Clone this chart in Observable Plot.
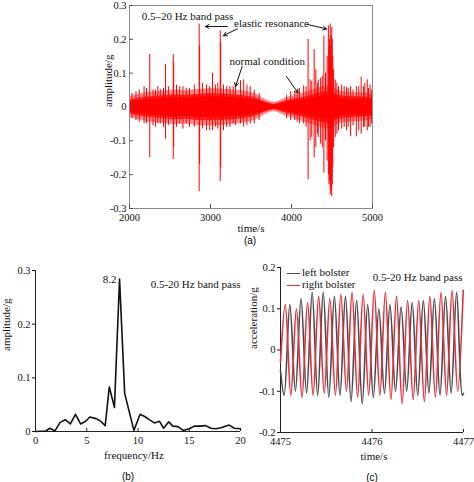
<!DOCTYPE html>
<html><head><meta charset="utf-8">
<script src="https://cdn.jsdelivr.net/npm/d3@7"></script>
<script src="https://cdn.jsdelivr.net/npm/@observablehq/plot@0.6"></script>
<style>
html,body{margin:0;padding:0;background:#fff;}
#wrap{position:relative;width:474px;height:482px;overflow:hidden;font-family:"Liberation Serif","Times New Roman",serif;}
#wrap svg text{font-family:"Liberation Serif","Times New Roman",serif !important;font-variant-numeric:normal !important;}
.pane{position:absolute;}
.cap{position:absolute;font-family:"Liberation Sans",Arial,sans-serif;font-size:10px;line-height:12px;transform:translateX(-50%);}
.leg{position:absolute;font-size:11px;line-height:12px;white-space:nowrap;color:#111;}
.leg i{display:inline-block;width:13px;height:0;border-top:1.6px solid;vertical-align:middle;margin-right:2px;}
</style></head><body><div id="wrap"></div>
<script>
// ---------- panel (a): band-passed time history ----------
const envTime = [2000,2050,2150,2250,2400,2550,2700,2850,3000,3200,3400,3550,3650,3720,3780,3830,3900,4000,4100,4200,4300,4420,4500,4560,4650,4750,4850,4950,5000];
const envSolidHi = [0.015,0.018,0.020,0.023,0.025,0.027,0.026,0.029,0.030,0.029,0.026,0.021,0.014,0.009,0.006,0.008,0.012,0.017,0.020,0.024,0.029,0.034,0.034,0.027,0.024,0.023,0.023,0.021,0.020];
const envSolidLo = [-0.015,-0.018,-0.021,-0.023,-0.026,-0.029,-0.027,-0.030,-0.031,-0.029,-0.026,-0.021,-0.014,-0.009,-0.006,-0.008,-0.012,-0.017,-0.020,-0.026,-0.030,-0.036,-0.036,-0.029,-0.025,-0.023,-0.023,-0.021,-0.020];
const envCoreHi = [0.020,0.024,0.027,0.030,0.033,0.036,0.035,0.038,0.040,0.038,0.034,0.028,0.018,0.012,0.008,0.010,0.016,0.022,0.026,0.032,0.038,0.045,0.045,0.036,0.032,0.030,0.030,0.028,0.026];
const envCoreLo = [-0.020,-0.024,-0.028,-0.031,-0.034,-0.038,-0.036,-0.040,-0.041,-0.039,-0.035,-0.028,-0.018,-0.012,-0.008,-0.010,-0.016,-0.022,-0.027,-0.034,-0.040,-0.048,-0.048,-0.038,-0.033,-0.031,-0.030,-0.028,-0.026];
const envHairHi = [0.030,0.034,0.040,0.044,0.046,0.050,0.048,0.052,0.055,0.052,0.048,0.040,0.026,0.018,0.013,0.016,0.024,0.032,0.038,0.046,0.054,0.062,0.060,0.050,0.045,0.042,0.042,0.040,0.036];
const envHairLo = [-0.030,-0.034,-0.040,-0.045,-0.048,-0.052,-0.050,-0.055,-0.056,-0.053,-0.048,-0.040,-0.026,-0.018,-0.013,-0.016,-0.024,-0.032,-0.040,-0.048,-0.056,-0.066,-0.064,-0.052,-0.046,-0.044,-0.043,-0.040,-0.036];
const spikeTime = [2030,2080,2120,2180,2210,2250,2290,2320,2350,2380,2420,2445,2480,2540,2546,2580,2620,2660,2700,2740,2800,2860,2866,2900,2950,2990,3025,3060,3090,3120,3126,3160,3200,3240,3280,3310,3370,3410,3450,3490,3540,3600,3940,3990,4040,4070,4100,4150,4180,4205,4230,4250,4280,4300,4320,4330,4360,4380,4400,4420,4440,4455,4462,4470,4478,4484,4490,4497,4503,4510,4520,4540,4560,4580,4620,4650,4680,4700,4730,4760,4800,4830,4860,4890,4905,4935,4950,4970,4990];
const spikeHi = [0.040,0.045,0.050,0.060,0.055,0.155,0.050,0.050,0.060,0.052,0.055,0.125,0.060,0.155,0.130,0.065,0.060,0.060,0.055,0.055,0.065,0.245,0.180,0.070,0.065,0.060,0.100,0.065,0.070,0.225,0.190,0.065,0.060,0.060,0.060,0.065,0.078,0.080,0.065,0.060,0.050,0.040,0.035,0.045,0.045,0.050,0.055,0.062,0.060,0.200,0.080,0.075,0.170,0.110,0.070,0.080,0.085,0.090,0.210,0.100,0.150,0.240,0.170,0.200,0.245,0.180,0.210,0.235,0.200,0.150,0.110,0.080,0.070,0.060,0.065,0.060,0.058,0.055,0.060,0.050,0.060,0.060,0.088,0.060,0.070,0.080,0.055,0.065,0.050];
const spikeLo = [-0.035,-0.040,-0.045,-0.050,-0.050,-0.150,-0.055,-0.060,-0.050,-0.050,-0.060,-0.095,-0.055,-0.155,-0.120,-0.060,-0.050,-0.065,-0.050,-0.060,-0.060,-0.250,-0.170,-0.065,-0.070,-0.070,-0.070,-0.060,-0.065,-0.220,-0.180,-0.070,-0.060,-0.060,-0.050,-0.055,-0.050,-0.060,-0.055,-0.050,-0.050,-0.040,-0.035,-0.040,-0.040,-0.045,-0.050,-0.050,-0.060,-0.215,-0.100,-0.090,-0.150,-0.120,-0.080,-0.090,-0.110,-0.120,-0.195,-0.100,-0.160,-0.200,-0.230,-0.220,-0.260,-0.240,-0.250,-0.265,-0.230,-0.180,-0.120,-0.090,-0.080,-0.070,-0.065,-0.060,-0.070,-0.060,-0.088,-0.055,-0.088,-0.070,-0.080,-0.060,-0.060,-0.070,-0.060,-0.060,-0.050];
const timeTicksA = [2000,3000,4000,5000];
const ampTicksA = [-0.3,-0.2,-0.1,0,0.1,0.2,0.3];
const noteText = ["0.5\u201320 Hz band pass","elastic resonance","normal condition"];
const noteTime = [2716,3753,3700];
const noteAmp = [0.267,0.247,0.135];
const arrowT1 = [3210,3333,4194,3391,3938];
const arrowA1 = [0.238,0.231,0.244,0.120,0.090];
const arrowT2 = [2938,3160,4432,3309,4082];
const arrowA2 = [0.238,0.211,0.231,0.061,0.041];

// ---------- panel (b): spectrum ----------
const freqHz = [0,1.0,1.4,1.9,2.4,2.9,3.4,3.9,4.4,4.9,5.3,5.9,6.3,6.8,7.2,7.7,8.2,8.7,9.6,10.2,10.65,11.1,11.6,12.1,12.5,13.0,13.4,13.9,14.4,15.0,15.5,16.0,16.6,17.1,17.6,18.1,18.9,19.4,20];
const freqAmp = [0,0.001,0.006,0.001,0.017,0.022,0.014,0.032,0.014,0.019,0.027,0.024,0.020,0.011,0.083,0.045,0.284,0.071,0.002,0.032,0.028,0.022,0.016,0.019,0.006,0.018,0.010,0.009,0.002,0.005,0.010,0.010,0.011,0.006,0.005,0.007,0.012,0.006,0.005];
const freqTicks = [0,5,10,15,20];
const ampTicksB = [0,0.1,0.2,0.3];

// ---------- panel (c): left / right bolster ----------
const leftT = [4475.000,4475.040,4475.102,4475.163,4475.224,4475.285,4475.346,4475.406,4475.467,4475.528,4475.589,4475.650,4475.710,4475.771,4475.832,4475.893,4475.953,4476.014,4476.075,4476.136,4476.196,4476.257,4476.318,4476.379,4476.439,4476.500,4476.561,4476.622,4476.682,4476.743,4476.804,4476.865,4476.925,4476.986,4477.000];
const leftV = [-0.050,-0.110,0.110,-0.100,0.125,-0.105,0.140,-0.110,0.140,-0.115,0.130,-0.110,0.130,-0.125,0.120,-0.130,0.110,-0.115,0.100,-0.105,0.110,-0.100,0.105,-0.100,0.115,-0.110,0.120,-0.105,0.125,-0.110,0.130,-0.105,0.140,-0.110,-0.105];
const rightT = [4475.000,4475.052,4475.113,4475.174,4475.235,4475.296,4475.356,4475.417,4475.478,4475.539,4475.600,4475.660,4475.721,4475.782,4475.843,4475.903,4475.964,4476.025,4476.086,4476.146,4476.207,4476.268,4476.329,4476.389,4476.450,4476.511,4476.572,4476.632,4476.693,4476.754,4476.815,4476.875,4476.936,4476.997];
const rightV = [-0.030,0.110,-0.110,0.100,-0.115,0.115,-0.110,0.130,-0.105,0.125,-0.110,0.135,-0.100,0.140,-0.115,0.135,-0.110,0.145,-0.110,0.140,-0.120,0.130,-0.130,0.120,-0.120,0.120,-0.125,0.130,-0.115,0.140,-0.110,0.145,-0.100,0.145];
const timeTicksC = [4475,4476,4477];
const accTicksC = [-0.2,-0.1,0,0.1,0.2];
const seriesNames = ["left bolster","right bolster"];

// ---------- build ----------
const SERIF = "'Liberation Serif','Times New Roman',serif";
const RED = "#ff0000";
const INK = "#111";
const fmt = d => d === 0 ? "0" : d.toFixed(1);
const envRows = envTime.map((t,i) => ({t, sHi: envSolidHi[i], sLo: envSolidLo[i], coreHi: envCoreHi[i], coreLo: envCoreLo[i], hairHi: envHairHi[i], hairLo: envHairLo[i]}));
const spikes = spikeTime.map((t,i) => ({t, hi: spikeHi[i], lo: spikeLo[i]}));
const notes = noteText.map((s,i) => ({s, t: noteTime[i], a: noteAmp[i]}));
const arrows = arrowT1.map((t,i) => ({t1: t, a1: arrowA1[i], t2: arrowT2[i], a2: arrowA2[i]}));
const spec = freqHz.map((f,i) => ({f, a: freqAmp[i]}));
const peak = spec.reduce((m,d) => d.a > m.a ? d : m, spec[0]);
const left = leftT.map((t,i) => ({t, v: leftV[i]}));
const right = rightT.map((t,i) => ({t, v: rightV[i]}));

const wrap = document.getElementById("wrap");
function place(el, x, y) { el.classList.add("pane"); el.style.left = x + "px"; el.style.top = y + "px"; wrap.appendChild(el); }
const baseStyle = {fontFamily: SERIF, fontSize: "11px", background: "transparent", color: INK, overflow: "visible"};
const T = {fontFamily: SERIF, fontSize: 11, fill: INK};
const TK = {fontFamily: SERIF, fontSize: 10.5, fill: INK};

// (a)
const aW = 474, aH = 250, aML = 129, aMR = 102, aMT = 5, aMB = 42;
const plotA = Plot.plot({
  width: aW, height: aH, marginLeft: aML, marginRight: aMR, marginTop: aMT, marginBottom: aMB,
  style: baseStyle,
  x: {domain: [2000, 5000]},
  y: {domain: [-0.3, 0.3]},
  marks: [
    Plot.areaY(envRows, {x: "t", y1: "hairLo", y2: "hairHi", fill: RED, fillOpacity: 0.45}),
    Plot.areaY(envRows, {x: "t", y1: "coreLo", y2: "coreHi", fill: RED, fillOpacity: 0.75}),
    Plot.areaY(envRows, {x: "t", y1: "sLo", y2: "sHi", fill: RED}),
    Plot.ruleX(spikes, {x: "t", y1: "lo", y2: "hi", stroke: RED, strokeWidth: 1}),
    Plot.frame({stroke: "#8a8a8a"}),
    Plot.tickX(timeTicksA, {x: d => d, stroke: "#555", insetTop: aH - aMT - aMB - 4}),
    Plot.tickY(ampTicksA, {y: d => d, stroke: "#555", insetRight: aW - aML - aMR - 4}),
    Plot.axisX({ticks: timeTicksA, tickSize: 0, tickPadding: 5, tickFormat: "d", label: null, ...TK}),
    Plot.axisY({ticks: ampTicksA, tickSize: 0, tickPadding: 3, tickFormat: fmt, label: null, ...TK}),
    Plot.text(["time/s"], {frameAnchor: "bottom", dy: 23, ...T}),
    Plot.text(["amplitude/g"], {frameAnchor: "left", rotate: -90, dx: -21, ...T}),
    Plot.text(notes, {x: "t", y: "a", text: "s", ...T}),
    Plot.arrow(arrows, {x1: "t1", y1: "a1", x2: "t2", y2: "a2", stroke: INK, strokeWidth: 1, headLength: 6})
  ]
});
place(plotA, 0, 0);

// (b)
const bW = 250, bH = 232, bML = 35, bMR = 10, bMT = 20, bMB = 51;
const plotB = Plot.plot({
  width: bW, height: bH, marginLeft: bML, marginRight: bMR, marginTop: bMT, marginBottom: bMB,
  style: baseStyle,
  x: {domain: [0, 20]},
  y: {domain: [0, 0.3]},
  marks: [
    Plot.ruleY([0], {stroke: "#222"}),
    Plot.ruleX([0], {stroke: "#222"}),
    Plot.tickX(freqTicks, {x: d => d, stroke: "#222", insetTop: bH - bMT - bMB - 3}),
    Plot.line(spec, {x: "f", y: "a", stroke: INK, strokeWidth: 1.6}),
    Plot.text([peak], {x: "f", y: "a", text: d => String(d.f), textAnchor: "end", dx: -3, ...T}),
    Plot.text(["0.5-20 Hz band pass"], {frameAnchor: "top-right", textAnchor: "end", dy: 10, ...T}),
    Plot.axisX({ticks: freqTicks, tickSize: 0, tickPadding: 5, tickFormat: "d", label: null, ...TK}),
    Plot.axisY({ticks: ampTicksB, tickSize: 3, tickPadding: 2, tickFormat: fmt, label: null, ...TK}),
    Plot.text(["frequency/Hz"], {frameAnchor: "bottom", dx: -4, dy: 27, ...T}),
    Plot.text(["amplitude/g"], {frameAnchor: "left", rotate: -90, dx: -29, ...T})
  ]
});
place(plotB, 0, 250);

// (c)
const cW = 234, cH = 232, cML = 40, cMR = 11, cMT = 17, cMB = 50;
const plotC = Plot.plot({
  width: cW, height: cH, marginLeft: cML, marginRight: cMR, marginTop: cMT, marginBottom: cMB,
  style: baseStyle,
  x: {domain: [4475, 4477]},
  y: {domain: [-0.2, 0.2]},
  marks: [
    Plot.ruleY([-0.2], {stroke: "#222"}),
    Plot.ruleX([4475], {stroke: "#222"}),
    Plot.tickX(timeTicksC, {x: d => d, stroke: "#222", insetTop: cH - cMT - cMB - 3}),
    Plot.line(left, {x: "t", y: "v", stroke: "#4a4a4a", strokeWidth: 1.6, curve: "catmull-rom"}),
    Plot.line(right, {x: "t", y: "v", stroke: "#e0313c", strokeWidth: 1.6, curve: "catmull-rom"}),
    Plot.text(["0.5-20 Hz band pass"], {frameAnchor: "top-right", textAnchor: "end", dx: -1, dy: 6, ...T}),
    Plot.axisX({ticks: timeTicksC, tickSize: 0, tickPadding: 5, tickFormat: "d", label: null, ...TK}),
    Plot.axisY({ticks: accTicksC, tickSize: 3, tickPadding: 2, tickFormat: fmt, label: null, ...TK}),
    Plot.text(["time/s"], {frameAnchor: "bottom", dx: 2, dy: 27, ...T}),
    Plot.text(["acceleration/g"], {frameAnchor: "left", rotate: -90, dx: -27, dy: -1, ...T})
  ]
});
place(plotC, 240, 250);

// legend for (c)
const legColors = ["#4a4a4a", "#e0313c"];
seriesNames.forEach((n, i) => {
  const d = document.createElement("div");
  d.className = "leg";
  d.style.left = "287px";
  d.style.top = (266 + i * 12) + "px";
  d.innerHTML = `<i style="border-color:${legColors[i]}"></i>${n}`;
  wrap.appendChild(d);
});

// captions
[["(a)", 250, 235], ["(b)", 128, 471], ["(c)", 372, 472]].forEach(([s, x, y]) => {
  const d = document.createElement("div");
  d.className = "cap";
  d.textContent = s;
  d.style.left = x + "px";
  d.style.top = y + "px";
  wrap.appendChild(d);
});
</script>
</body></html>
